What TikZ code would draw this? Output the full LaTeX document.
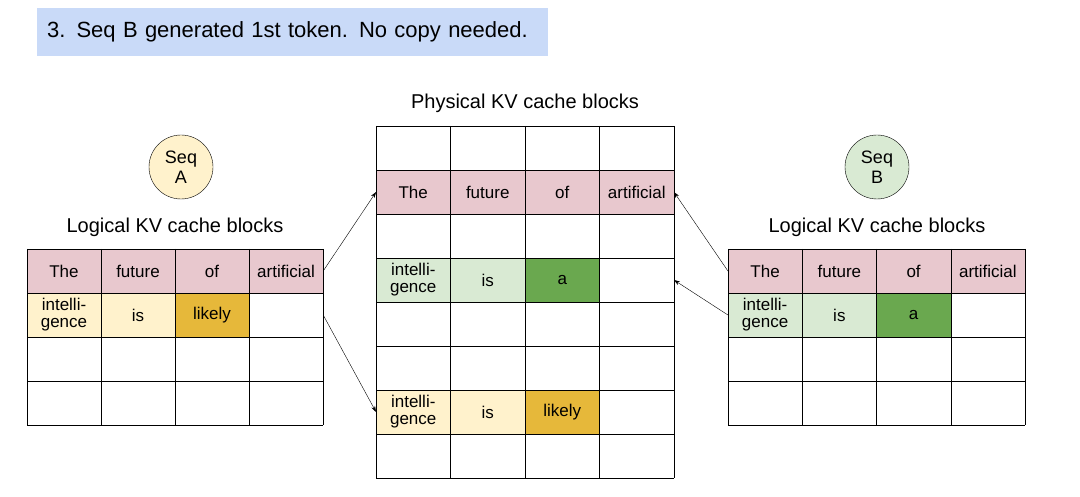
\documentclass[tikz,border=0pt]{standalone}
\usepackage{fontspec}
\setmainfont{Liberation Sans}
\usetikzlibrary{arrows.meta}
\definecolor{titlebg}{HTML}{C9DAF8}
\definecolor{pinkc}{HTML}{E8C8CE}
\definecolor{ylight}{HTML}{FFF2CC}
\definecolor{ydark}{HTML}{E6B83A}
\definecolor{glight}{HTML}{D9EAD3}
\definecolor{gdark}{HTML}{6AA84F}
\tikzset{
  cell/.style={draw=none,minimum width=74pt,minimum height=44pt,inner sep=0pt,
    align=center,font=\fontsize{17}{17}\selectfont},
  seq/.style={circle,draw,minimum size=64pt,align=center,inner sep=0pt,
    font=\fontsize{18}{20}\selectfont},
  lbl/.style={font=\fontsize{20}{21}\selectfont},
  link/.style={-{Stealth[length=6pt,width=4pt]},thin}
}
\begin{document}
\begin{tikzpicture}[x=1pt,y=-1pt]
\useasboundingbox (0,0) rectangle (1080,497);
%\draw[step=1.0,red,thin] (-1,-1) grid (16,5);
\node[fill=titlebg,minimum width=511pt,minimum height=48pt,anchor=north west,
  text width=491pt,font=\fontsize{22}{24}\selectfont] (title) at (37,8)
  {3. Seq B generated 1st token. No copy needed.};

\node[seq,fill=ylight] (seqA) at (181,167) {Seq\\A};
\node[seq,fill=glight] (seqB) at (877,167) {Seq\\B};

\node[lbl] (logA) at (175,227) {Logical KV cache blocks};
\node[lbl] (logB) at (877,227) {Logical KV cache blocks};
\node[lbl] (phys) at (525,103) {Physical KV cache blocks};

% left table
\foreach \r/\c/\t/\f in {1/1/The/pinkc,1/2/future/pinkc,1/3/of/pinkc,1/4/artificial/pinkc,
  2/1/{intelli-\\gence}/ylight,2/2/is/ylight,2/3/likely/ydark,2/4/{}/white}
  \node[cell,fill=\f] (L-\r-\c) at ({27+74*(\c-0.5)},{249+44*(\r-0.5)}) {\t};
\foreach \i in {0,...,4} \draw ({27+74*\i},249) -- ({27+74*\i},425);
\foreach \i in {0,...,4} \draw (27,{249+44*\i}) -- (323,{249+44*\i});

% middle table
\foreach \r/\c/\t/\f in {2/1/The/pinkc,2/2/future/pinkc,2/3/of/pinkc,2/4/artificial/pinkc,
  4/1/{intelli-\\gence}/glight,4/2/is/glight,4/3/a/gdark,4/4/{}/white,
  7/1/{intelli-\\gence}/ylight,7/2/is/ylight,7/3/likely/ydark,7/4/{}/white}
  \node[cell,fill=\f] (P-\r-\c) at ({376+74.5*(\c-0.5)},{126+44*(\r-0.5)}) {\t};
\foreach \i in {0,...,4} \draw ({376+74.5*\i},126) -- ({376+74.5*\i},478);
\foreach \i in {0,...,8} \draw (376,{126+44*\i}) -- (674,{126+44*\i});

% right table
\foreach \r/\c/\t/\f in {1/1/The/pinkc,1/2/future/pinkc,1/3/of/pinkc,1/4/artificial/pinkc,
  2/1/{intelli-\\gence}/glight,2/2/is/glight,2/3/a/gdark,2/4/{}/white}
  \node[cell,fill=\f] (R-\r-\c) at ({728+74.25*(\c-0.5)},{249+44*(\r-0.5)}) {\t};
\foreach \i in {0,...,4} \draw ({728+74.25*\i},249) -- ({728+74.25*\i},425);
\foreach \i in {0,...,4} \draw (728,{249+44*\i}) -- (1025,{249+44*\i});

\draw[link] (L-1-4.east) -- (P-2-1.west);
\draw[link] (L-2-4.east) -- (P-7-1.west);
\draw[link] (R-1-1.west) -- (P-2-4.east);
\draw[link] (R-2-1.west) -- (P-4-4.east);
\end{tikzpicture}
\end{document}
